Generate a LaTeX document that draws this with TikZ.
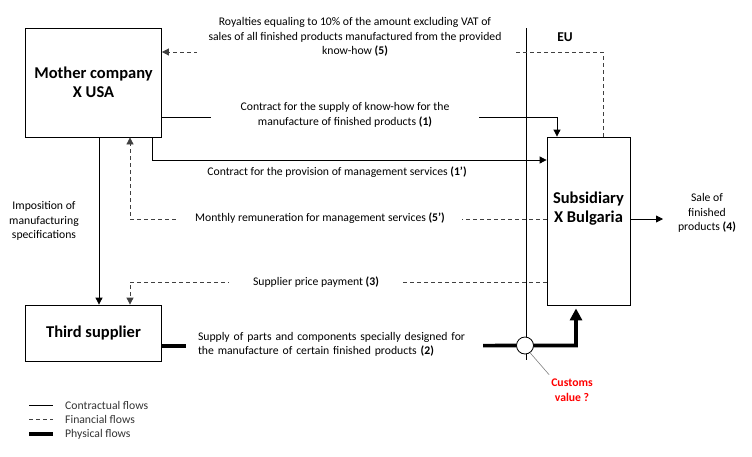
\documentclass[tikz,border=0pt]{standalone}
\usepackage{fontspec}
\setmainfont{Carlito}
\usetikzlibrary{arrows.meta, positioning, calc}

\definecolor{dashgray}{gray}{0.25}

\tikzset{
  entity/.style={draw, line width=0.8pt, fill=white, inner sep=0pt},
  boxlabel/.style={font=\fontsize{16.5}{19}\selectfont\bfseries, align=center},
  flowtext/.style={font=\fontsize{11.7}{14.5}\selectfont, align=center, inner sep=0pt},
  gaptext/.style={flowtext, fill=white, inner ysep=2pt},
  con/.style={line width=0.8pt},
  fin/.style={line width=0.8pt, dashgray, dash pattern=on 4pt off 3pt},
  phys/.style={line width=3.6pt, line join=miter},
  tip/.style={-{Triangle[length=7pt,width=7pt]}},
  bigtip/.style={-{Triangle[length=12pt,width=12pt]}},
}

\begin{document}
\begin{tikzpicture}[x=1pt, y=-1pt, line cap=butt]
\useasboundingbox (0,0) rectangle (752,456);

    % Companies
    \node[entity, minimum width=136pt, minimum height=109pt, boxlabel] (mother) at (93.5,82.5) {Mother company\\X USA};
    \node[entity, minimum width=136pt, minimum height=56pt, boxlabel] (third) at (93.5,333) {Third supplier};
    \node[entity, minimum width=83pt, minimum height=168pt] (sub) at (588.5,221) {};
    \node[boxlabel] (sublbl) at (588.5,209) {Subsidiary\\X Bulgaria};

    % EU border
    \coordinate (eutop) at (526,28);
    \coordinate (eubot) at (526,360);
    \draw[con] (eutop) -- (eubot);
    \node[font=\fontsize{13.5}{15}\selectfont\bfseries] (eu) at (565,37) {EU};

    % Contractual flows
    \draw[con, tip] ([yshift=-34.5pt]mother.east) -| ([xshift=-31.5pt]sub.north);
    \draw[con, tip] ([xshift=58.5pt]mother.south) |- ([yshift=61pt]sub.west);
    \draw[con, tip] ([xshift=5.5pt]mother.south) -- ([xshift=5.5pt]third.north);
    \coordinate (saleend) at (663,219);
    \draw[con, tip] ([yshift=2pt]sub.east) -- (saleend);

    % Financial flows
    \draw[fin, tip] ([xshift=14.5pt]sub.north) |- ([yshift=30.5pt]mother.east);
    \draw[fin, tip] ([yshift=2pt]sub.west) -| ([xshift=36.5pt]mother.south);
    \draw[fin, tip] ([yshift=-61pt]sub.west) -| ([xshift=36.5pt]third.north);

    % Physical flow through the customs point
    \coordinate (cvc) at (525,345.5);
    \draw[phys, bigtip, shorten >=3pt] ([yshift=-13pt]third.east) -- (cvc) -| ([xshift=-12.5pt]sub.south);
    \node[circle, draw, line width=0.8pt, fill=white, minimum size=17pt, inner sep=0pt] (cv) at (cvc) {};

    % Flow labels
    \node[gaptext, inner xsep=12pt] (roytxt) at (355,37) {Royalties equaling to 10\% of the amount excluding VAT of\\sales of all finished products manufactured from the provided\\know-how \textbf{(5)}};
    \node[gaptext, inner xsep=30pt] (kntxt) at (345,115) {Contract for the supply of know-how for the\\manufacture of finished products \textbf{(1)}};
    \node[flowtext] (mgmttxt) at (337,172) {Contract for the provision of management services \textbf{(1’)}};
    \node[gaptext, inner xsep=17pt] (remtxt) at (320,218.5) {Monthly remuneration for management services \textbf{(5’)}};
    \node[gaptext, inner xsep=24pt] (paytxt) at (316,282) {Supplier price payment \textbf{(3)}};
    \node[gaptext, text width=273pt, align=left, inner xsep=12pt] (phystxt) at (334.5,344.5) {Supply of parts and components specially designed for\\the manufacture of certain finished products \textbf{(2)}};
    \node[flowtext] (imptxt) at (44,221) {Imposition of\\manufacturing\\specifications};
    \node[flowtext] (saletxt) at (707,213) {Sale of\\finished\\products \textbf{(4)}};

    % Customs value
    \node[flowtext, font=\fontsize{11.7}{14.5}\selectfont\bfseries, text=red] (cvtxt) at (572,390) {Customs\\value ?};
    \draw[gray, line width=0.6pt] (cv.-55) -- ([xshift=-2pt,yshift=4pt]cvtxt.north west);

    % Legend
    \foreach \y/\sty/\txt in {405/con/Contractual flows, 419/fin/Financial flows, 434/phys/Physical flows}{
        \draw[\sty] (29,\y) -- (53,\y);
        \node[flowtext, anchor=west, text=black!80] (leg\y) at (65,\y) {\txt};
    }

\end{tikzpicture}
\end{document}
